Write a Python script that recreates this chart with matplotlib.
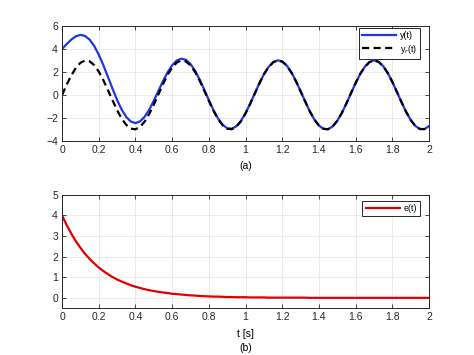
import numpy as np
import matplotlib
matplotlib.use("Agg")
import matplotlib.pyplot as plt

# values (t step 0.025 s)
t = np.linspace(0, 2, 81)

y_r = [0.00, 0.89, 1.69, 2.35, 2.80, 2.99, 2.92, 2.59, 2.03, 1.28,
       0.42, -0.47, -1.33, -2.06, -2.61, -2.93, -2.99, -2.78, -2.32, -1.65,
       -0.84, 0.05, 0.93, 1.74, 2.38, 2.81, 3.00, 2.91, 2.56, 1.99,
       1.24, 0.37, -0.52, -1.37, -2.10, -2.64, -2.94, -2.98, -2.76, -2.29,
       -1.61, -0.79, 0.10, 0.98, 1.78, 2.41, 2.83, 3.00, 2.90, 2.54,
       1.95, 1.19, 0.32, -0.57, -1.42, -2.14, -2.66, -2.95, -2.98, -2.74,
       -2.25, -1.57, -0.74, 0.15, 1.03, 1.82, 2.44, 2.85, 3.00, 2.88,
       2.51, 1.91, 1.14, 0.27, -0.62, -1.46, -2.17, -2.69, -2.96, -2.97,
       -2.72]

y = [4.00, 4.42, 4.81, 5.10, 5.22, 5.13, 4.81, 4.26, 3.50, 2.58,
     1.57, 0.54, -0.44, -1.28, -1.92, -2.32, -2.45, -2.30, -1.90, -1.28,
     -0.51, 0.34, 1.19, 1.96, 2.58, 2.99, 3.15, 3.05, 2.69, 2.10,
     1.33, 0.46, -0.45, -1.31, -2.04, -2.59, -2.90, -2.94, -2.72, -2.26,
     -1.58, -0.77, 0.12, 1.00, 1.79, 2.42, 2.84, 3.01, 2.91, 2.55,
     1.96, 1.20, 0.33, -0.56, -1.42, -2.14, -2.66, -2.95, -2.98, -2.74,
     -2.25, -1.57, -0.74, 0.15, 1.03, 1.82, 2.44, 2.85, 3.00, 2.88,
     2.51, 1.91, 1.14, 0.27, -0.62, -1.46, -2.17, -2.69, -2.96, -2.97,
     -2.72]

e = [4.00, 3.53, 3.12, 2.75, 2.43, 2.14, 1.89, 1.67, 1.47, 1.30,
     1.15, 1.01, 0.89, 0.79, 0.70, 0.61, 0.54, 0.48, 0.42, 0.37,
     0.33, 0.29, 0.26, 0.23, 0.20, 0.18, 0.16, 0.14, 0.12, 0.11,
     0.09, 0.08, 0.07, 0.06, 0.06, 0.05, 0.04, 0.04, 0.03, 0.03,
     0.03, 0.02, 0.02, 0.02, 0.02, 0.01, 0.01, 0.01, 0.01, 0.01,
     0.01, 0.01, 0.01, 0.01, 0.00, 0.00, 0.00, 0.00, 0.00, 0.00,
     0.00, 0.00, 0.00, 0.00, 0.00, 0.00, 0.00, 0.00, 0.00, 0.00,
     0.00, 0.00, 0.00, 0.00, 0.00, 0.00, 0.00, 0.00, 0.00, 0.00,
     0.00]

x_ticks = [0, 0.2, 0.4, 0.6, 0.8, 1, 1.2, 1.4, 1.6, 1.8, 2]
x_labels = ["0", "0.2", "0.4", "0.6", "0.8", "1", "1.2", "1.4", "1.6", "1.8", "2"]

plt.rcParams['font.family'] = ['Liberation Sans', 'DejaVu Sans']
plt.rcParams['font.size'] = 7.5


def matlab_style(ax):
    ax.grid(True, color='#e8e8e8', linewidth=0.6)
    ax.set_axisbelow(True)
    ax.tick_params(direction='in', top=True, right=True, length=3,
                   width=0.6, colors='#262626', labelsize=7.5, pad=3)
    for s in ax.spines.values():
        s.set_color('#262626')
        s.set_linewidth(0.7)
    ax.set_xlim(0, 2)
    ax.set_xticks(x_ticks)
    ax.set_xticklabels(x_labels)


def box_legend(ax, anchor):
    leg = ax.legend(loc='upper right', bbox_to_anchor=anchor, fontsize=6.5,
                    fancybox=False, framealpha=1, edgecolor='#262626',
                    handlelength=3.8, borderpad=0.35, labelspacing=0.3,
                    handletextpad=0.4, borderaxespad=0)
    leg.get_frame().set_linewidth(0.7)
    return leg


fig = plt.figure(figsize=(4.74, 3.55), dpi=100)

ax1 = fig.add_axes([0.131, 0.603, 0.774, 0.324])
ax1.plot(t, y, color='#1f35e6', linewidth=1.6, label='y(t)')
ax1.plot(t, y_r, color='black', linewidth=1.6, linestyle=(0, (3.2, 2)),
         label='y$_r$(t)')
matlab_style(ax1)
ax1.set_ylim(-4, 6)
ax1.set_yticks([-4, -2, 0, 2, 4, 6])
ax1.set_xlabel('(a)', fontsize=7.5, labelpad=4)
box_legend(ax1, (0.976, 0.985))

ax2 = fig.add_axes([0.131, 0.132, 0.774, 0.319])
ax2.plot(t, e, color='#e00000', linewidth=1.6, label='e(t)')
matlab_style(ax2)
ax2.set_ylim(-0.5, 5)
ax2.set_yticks([0, 1, 2, 3, 4, 5])
ax2.set_xlabel('t [s]\n(b)', fontsize=7.5, labelpad=5, linespacing=1.5)
box_legend(ax2, (0.976, 0.95))

fig.savefig('out.png', dpi=100)
